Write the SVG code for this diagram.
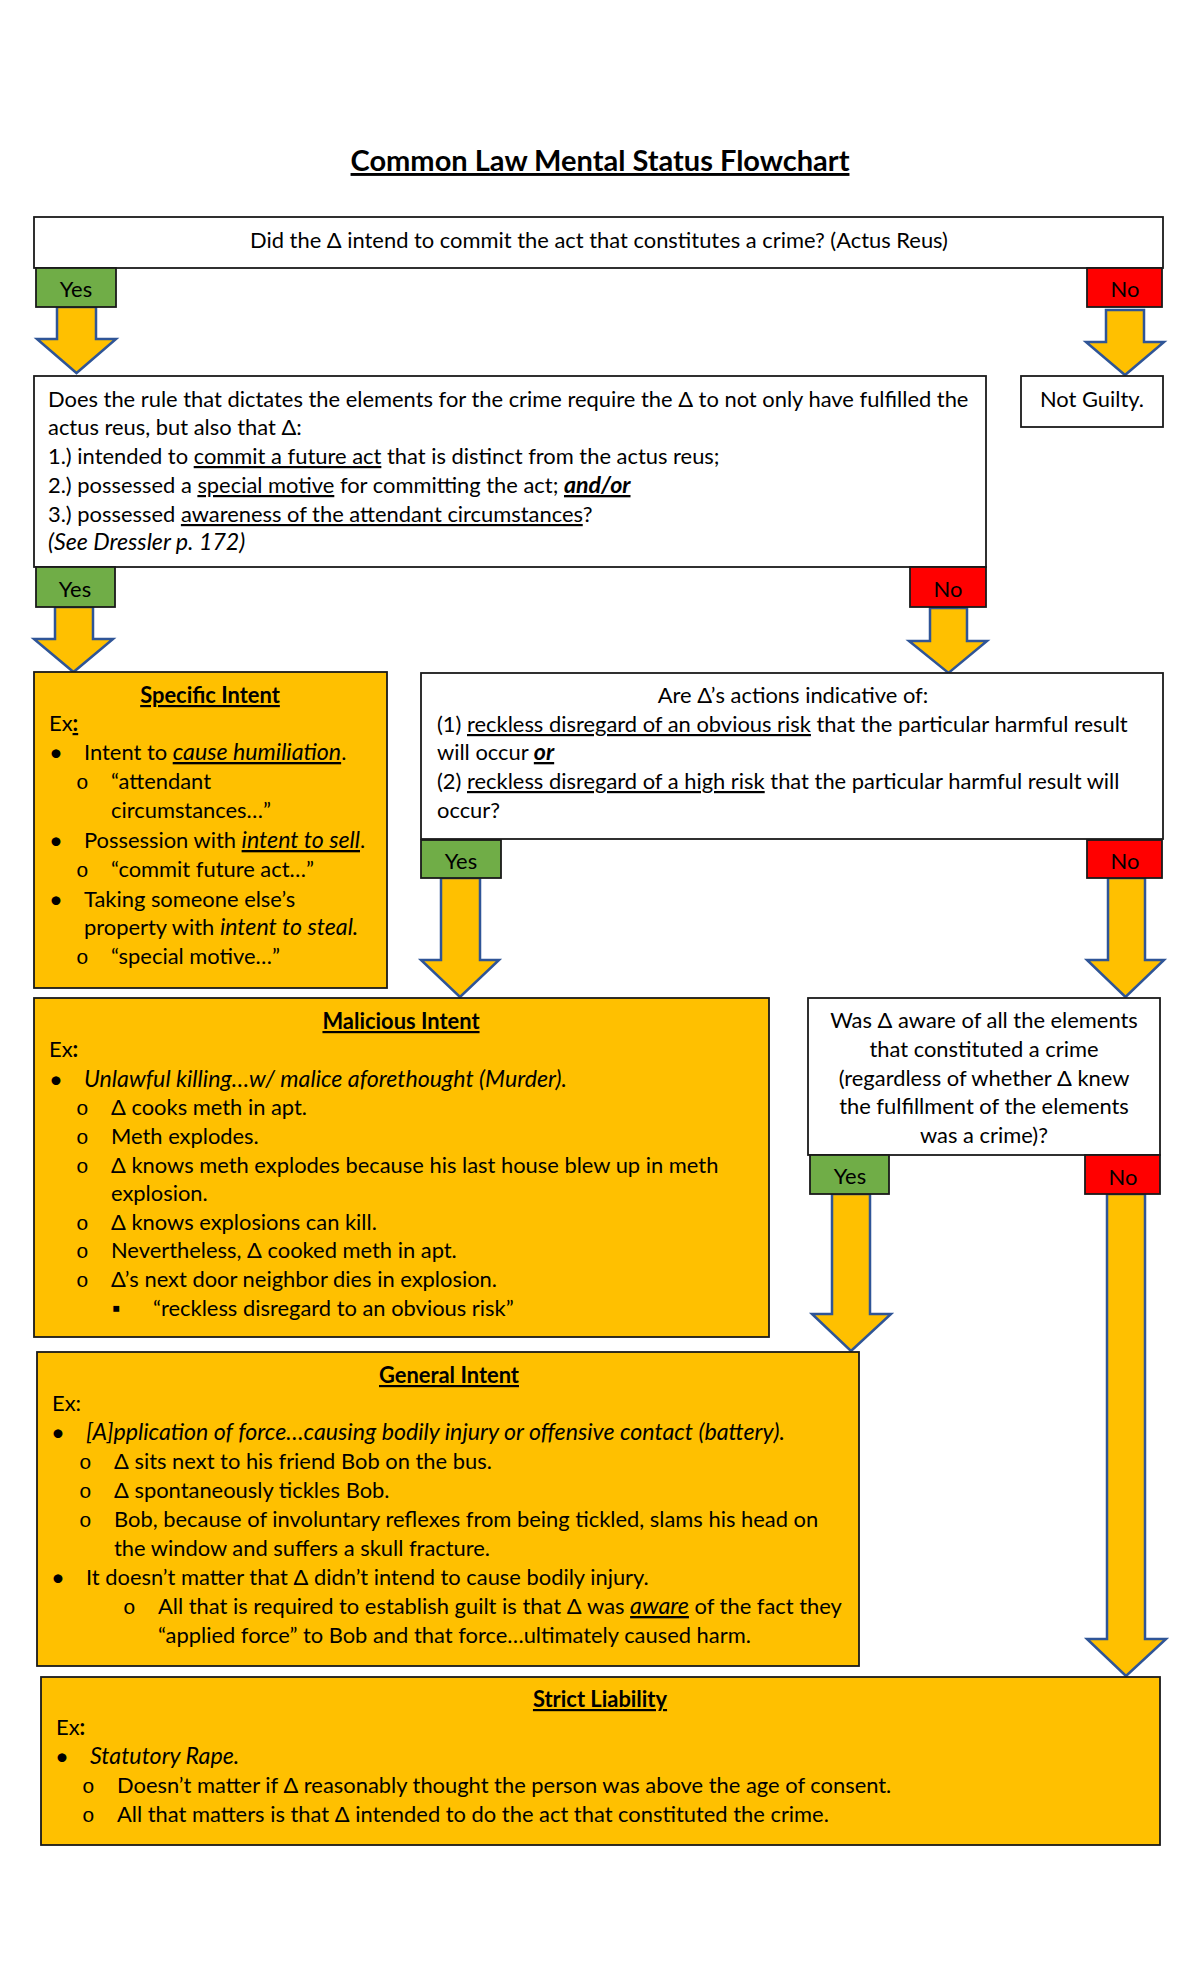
<svg xmlns="http://www.w3.org/2000/svg" width="1200" height="1976" viewBox="0 0 1200 1976">
<style>
.t{font-family:Lato,"Liberation Sans",sans-serif;font-size:21.9px;fill:#000}
.c{text-anchor:middle}
.b{font-weight:bold}
.i{font-style:italic;font-size:23.2px}
.u{text-decoration:underline}
.bl{font-family:"Liberation Mono",monospace;font-size:21px}
.dot{font-size:24px}
.box{fill:#fff;stroke:#1a1a1a;stroke-width:1.8}
.gold{fill:#FFC000;stroke:#1a1a1a;stroke-width:1.8}
.yes{fill:#70AD47;stroke:#1a1a1a;stroke-width:1.8}
.no{fill:#FF0000;stroke:#1a1a1a;stroke-width:1.8}
.arr{fill:#FFC000;stroke:#2F5597;stroke-width:2.5;stroke-linejoin:miter}
</style>
<rect width="1200" height="1976" fill="#fff"/>
<text class="t b u c" x="600" y="171" style="font-size:29px">Common Law Mental Status Flowchart</text>

<g id="connectors">
<polygon class="arr" points="57,307 96,307 96,339 116,339 76.5,373 37,339 57,339"/>
<polygon class="arr" points="1106,310 1144,310 1144,342 1164,342 1125,375 1086,342 1106,342"/>
<polygon class="arr" points="55,607 93,607 93,639 113,639 73.5,672 34,639 55,639"/>
<polygon class="arr" points="930,608 967,608 967,641 987,641 948.5,673 909,641 930,641"/>
<polygon class="arr" points="441,878 480,878 480,960 499,960 460,997 421,960 441,960"/>
<polygon class="arr" points="1108,878 1145,878 1145,960 1164,960 1125.5,997 1087,960 1108,960"/>
<polygon class="arr" points="832,1194 870,1194 870,1314 891,1314 851,1351 812,1314 832,1314"/>
<polygon class="arr" points="1107,1194 1145,1194 1145,1639 1166,1639 1126,1676 1087,1639 1107,1639"/>
</g>

<g id="q1">
<rect class="box" x="34" y="217" width="1129" height="51"/>
<text class="t c" x="599" y="248">Did the Δ intend to commit the act that constitutes a crime? (Actus Reus)</text>
</g>
<g id="yes1"><rect class="yes" x="36" y="268" width="80" height="39"/><text class="t c" x="76" y="297">Yes</text></g>
<g id="no1"><rect class="no" x="1087" y="268" width="75" height="39"/><text class="t c" x="1125" y="297">No</text></g>

<g id="q2">
<rect class="box" x="34" y="376" width="952" height="191"/>
<text class="t" x="48" y="407">Does the rule that dictates the elements for the crime require the Δ to not only have fulfilled the</text>
<text class="t" x="48" y="435">actus reus, but also that Δ:</text>
<text class="t" x="48" y="464">1.) intended to <tspan class="u">commit a future act</tspan> that is distinct from the actus reus;</text>
<text class="t" x="48" y="493">2.) possessed a <tspan class="u">special motive</tspan> for committing the act; <tspan class="b i u">and/or</tspan></text>
<text class="t" x="48" y="522">3.) possessed <tspan class="u">awareness of the attendant circumstances</tspan>?</text>
<text class="t i" x="48" y="550">(See Dressler p. 172)</text>
</g>
<g id="notguilty">
<rect class="box" x="1021" y="376" width="142" height="51"/>
<text class="t c" x="1092" y="407">Not Guilty.</text>
</g>
<g id="yes2"><rect class="yes" x="36" y="567" width="79" height="40"/><text class="t c" x="75" y="597">Yes</text></g>
<g id="no2"><rect class="no" x="910" y="567" width="76" height="40"/><text class="t c" x="948" y="597">No</text></g>

<g id="specific">
<rect class="gold" x="34" y="672" width="353" height="316"/>
<text class="t b u c" x="210" y="703">Specific Intent</text>
<text class="t" x="49" y="731">Ex<tspan class="b u">:</tspan></text>
<text class="t dot" x="49" y="761">•</text>
<text class="t" x="84" y="760">Intent to <tspan class="i u">cause humiliation</tspan>.</text>
<text class="t bl" x="76" y="789">o</text>
<text class="t" x="111" y="789">“attendant</text>
<text class="t" x="111" y="818">circumstances…”</text>
<text class="t dot" x="49" y="849">•</text>
<text class="t" x="84" y="848">Possession with <tspan class="i u">intent to sell</tspan>.</text>
<text class="t bl" x="76" y="877">o</text>
<text class="t" x="111" y="877">“commit future act…”</text>
<text class="t dot" x="49" y="908">•</text>
<text class="t" x="84" y="907">Taking someone else’s</text>
<text class="t" x="84" y="935">property with <tspan class="i">intent to steal.</tspan></text>
<text class="t bl" x="76" y="964">o</text>
<text class="t" x="111" y="964">“special motive…”</text>
</g>

<g id="q3">
<rect class="box" x="421" y="673" width="742" height="166"/>
<text class="t c" x="793" y="703">Are Δ’s actions indicative of:</text>
<text class="t" x="437" y="732">(1) <tspan class="u">reckless disregard of an obvious risk</tspan> that the particular harmful result</text>
<text class="t" x="437" y="760">will occur <tspan class="b i u">or</tspan></text>
<text class="t" x="437" y="789">(2) <tspan class="u">reckless disregard of a high risk</tspan> that the particular harmful result will</text>
<text class="t" x="437" y="818">occur?</text>
</g>
<g id="yes3"><rect class="yes" x="421" y="840" width="80" height="38"/><text class="t c" x="461" y="869">Yes</text></g>
<g id="no3"><rect class="no" x="1087" y="840" width="75" height="38"/><text class="t c" x="1125" y="869">No</text></g>

<g id="malicious">
<rect class="gold" x="34" y="998" width="735" height="339"/>
<text class="t b u c" x="401" y="1029">Malicious Intent</text>
<text class="t" x="49" y="1057">Ex<tspan class="b">:</tspan></text>
<text class="t dot" x="49" y="1088">•</text>
<text class="t i" x="84" y="1087">Unlawful killing…w/ malice aforethought (Murder).</text>
<text class="t bl" x="76" y="1115">o</text><text class="t" x="111" y="1115">Δ cooks meth in apt.</text>
<text class="t bl" x="76" y="1144">o</text><text class="t" x="111" y="1144">Meth explodes.</text>
<text class="t bl" x="76" y="1173">o</text><text class="t" x="111" y="1173">Δ knows meth explodes because his last house blew up in meth</text>
<text class="t" x="111" y="1201">explosion.</text>
<text class="t bl" x="76" y="1230">o</text><text class="t" x="111" y="1230">Δ knows explosions can kill.</text>
<text class="t bl" x="76" y="1258">o</text><text class="t" x="111" y="1258">Nevertheless, Δ cooked meth in apt.</text>
<text class="t bl" x="76" y="1287">o</text><text class="t" x="111" y="1287">Δ’s next door neighbor dies in explosion.</text>
<text class="t" x="112" y="1316">▪</text><text class="t" x="153" y="1316">“reckless disregard to an obvious risk”</text>
</g>

<g id="q4">
<rect class="box" x="808" y="998" width="352" height="157"/>
<text class="t c" x="984" y="1028">Was Δ aware of all the elements</text>
<text class="t c" x="984" y="1057">that constituted a crime</text>
<text class="t c" x="984" y="1086">(regardless of whether Δ knew</text>
<text class="t c" x="984" y="1114">the fulfillment of the elements</text>
<text class="t c" x="984" y="1143">was a crime)?</text>
</g>
<g id="yes4"><rect class="yes" x="810" y="1155" width="79" height="39"/><text class="t c" x="850" y="1184">Yes</text></g>
<g id="no4"><rect class="no" x="1085" y="1155" width="75" height="39"/><text class="t c" x="1123" y="1185">No</text></g>

<g id="general">
<rect class="gold" x="37" y="1352" width="822" height="314"/>
<text class="t b u c" x="449" y="1383">General Intent</text>
<text class="t" x="52" y="1411">Ex:</text>
<text class="t dot" x="51" y="1441">•</text>
<text class="t i" x="86" y="1440">[A]pplication of force…causing bodily injury or offensive contact (battery).</text>
<text class="t bl" x="79" y="1469">o</text><text class="t" x="114" y="1469">Δ sits next to his friend Bob on the bus.</text>
<text class="t bl" x="79" y="1498">o</text><text class="t" x="114" y="1498">Δ spontaneously tickles Bob.</text>
<text class="t bl" x="79" y="1527">o</text><text class="t" x="114" y="1527">Bob, because of involuntary reflexes from being tickled, slams his head on</text>
<text class="t" x="114" y="1556">the window and suffers a skull fracture.</text>
<text class="t dot" x="51" y="1586">•</text>
<text class="t" x="86" y="1585">It doesn’t matter that Δ didn’t intend to cause bodily injury.</text>
<text class="t bl" x="123" y="1614">o</text><text class="t" x="158" y="1614">All that is required to establish guilt is that Δ was <tspan class="i u">aware</tspan> of the fact they</text>
<text class="t" x="158" y="1643">“applied force” to Bob and that force…ultimately caused harm.</text>
</g>

<g id="strict">
<rect class="gold" x="41" y="1677" width="1119" height="168"/>
<text class="t b u c" x="600" y="1707">Strict Liability</text>
<text class="t" x="56" y="1735">Ex<tspan class="b">:</tspan></text>
<text class="t dot" x="55" y="1765">•</text>
<text class="t i" x="90" y="1764">Statutory Rape.</text>
<text class="t bl" x="82" y="1793">o</text><text class="t" x="117" y="1793">Doesn’t matter if Δ reasonably thought the person was above the age of consent.</text>
<text class="t bl" x="82" y="1822">o</text><text class="t" x="117" y="1822">All that matters is that Δ intended to do the act that constituted the crime.</text>
</g>
</svg>
